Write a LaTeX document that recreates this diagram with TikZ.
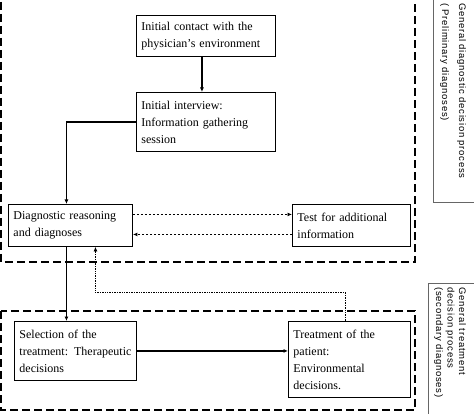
\documentclass[tikz,border=0pt]{standalone}
\usepackage{fontspec}
\setmainfont{Liberation Serif}
\newfontfamily\sidefont[LetterSpace=8]{Liberation Sans}
\usetikzlibrary{arrows.meta}

\begin{document}
\begin{tikzpicture}[x=1pt,y=-1pt,
    box/.style={draw, line width=.9pt, anchor=north west, align=left, inner xsep=5pt, inner ysep=0pt, font=\fontsize{12}{17}\selectfont},
    region/.style={line width=1.3pt, dash pattern=on 8pt off 4pt},
    frame/.style={draw=black!60, line width=1pt},
    side/.style={rotate=-90, anchor=west, align=left, inner sep=0pt, font=\sidefont\fontsize{9.5}{11.5}\selectfont},
    flow/.style={line width=1.2pt, -{Latex[length=4.5pt,width=4pt]}},
    query/.style={flow, line width=1pt, dash pattern=on 2.5pt off 1.5pt},
    feedback/.style={line width=.7pt, densely dotted, -{Latex[length=4.5pt,width=4pt]}}]
  \useasboundingbox (0,0) rectangle (474,414);
  \draw[region] (1,-10) rectangle (415,262);
  \draw[region] (1,311) rectangle (415,410);
  \draw[frame] (433,-3) rectangle (480,203);
  \draw[frame] (428,283) rectangle (480,420);
  \node[box, text width=129pt, minimum height=41pt] (contact) at (136,15) {Initial contact with the\\physician's environment};
  \node[box, text width=129pt, minimum height=59pt] (interview) at (136,92) {Initial interview:\\Information gathering\\session};
  \node[box, text width=114pt, minimum height=42pt] (diag) at (8,204) {Diagnostic reasoning\\and diagnoses};
  \node[box, text width=108pt, minimum height=42pt] (test) at (292,204) {Test for additional\\information};
  \node[box, text width=112pt, minimum height=59pt] (select) at (14,321) {Selection of the\\treatment: Therapeutic\\decisions};
  \node[box, text width=112pt, minimum height=76pt] (treat) at (288,321) {Treatment of the\\patient:\\Environmental\\decisions.};
  \node[side, text width=194pt, font=\sidefont\fontsize{9.5}{17}\selectfont] (diaglabel) at (453,3) {General diagnostic decision process\\( Preliminary diagnoses)};
  \node[side, text width=125pt] (treatlabel) at (450,287) {General treatment\\decision process\\(secondary diagnoses)};
  \draw[flow] ([xshift=-4pt]contact.south) -- ([xshift=-4pt]interview.north);
  \draw[flow] (interview.west) -| ([xshift=-4pt]diag.north);
  \draw[flow] ([xshift=-4pt]diag.south) -- ([xshift=-4pt]diag.south |- select.north);
  \draw[query] ([yshift=11pt]diag.east) -- ([yshift=11pt]diag.east -| test.west);
  \draw[query] ([yshift=-9pt]test.west) -- ([yshift=-9pt]test.west -| diag.east);
  \draw[flow] (select.east) -- (select.east -| treat.west);
  \draw[feedback] ([xshift=-4pt]treat.north) -- ++(0,-29) -| ([xshift=25pt]diag.south);
\end{tikzpicture}
\end{document}
